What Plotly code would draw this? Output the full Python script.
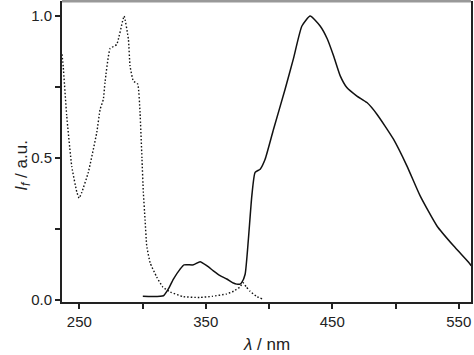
import plotly.graph_objects as go

# Absorption (dotted) spectrum
abs_wl = [236.3, 237.3, 240.0, 244.0, 248.0, 249.8, 251.9, 257.1, 263.8, 266.4, 269.0,
          270.3, 274.3, 279.6, 285.4, 288.8, 290.1, 292.7, 296.2, 298.0, 299.5, 300.6,
          302.0, 303.3, 306.0, 311.2, 316.0, 322.0, 332.0, 345.0, 355.0, 366.0, 372.0,
          377.0, 379.5, 382.0, 385.0, 390.0, 394.5]
abs_val = [0.865, 0.82, 0.65, 0.47, 0.38, 0.358, 0.378, 0.449, 0.59, 0.67, 0.707,
           0.766, 0.885, 0.90, 1.0, 0.918, 0.824, 0.771, 0.76, 0.66, 0.50, 0.38,
           0.28, 0.19, 0.13, 0.08, 0.045, 0.027, 0.011, 0.008, 0.012, 0.02, 0.03,
           0.045, 0.06, 0.045, 0.03, 0.012, 0.003]

# Emission (solid) spectrum
em_wl = [300.2, 316.5, 320.4, 324.4, 329.7, 332.8, 340.2, 345.5, 350.8, 356.0, 361.3,
         366.6, 371.8, 374.5, 377.1, 378.5, 381.1, 383.7, 386.4, 389.0, 393.0, 396.9,
         403.5, 412.7, 419.3, 426.0, 432.5, 440.4, 446.0, 451.0, 456.3, 461.5, 469.5,
         477.4, 485.3, 498.4, 509.0, 519.5, 532.8, 545.9, 557.8, 559.9]
em_val = [0.012, 0.014, 0.038, 0.073, 0.108, 0.123, 0.123, 0.134, 0.12, 0.102, 0.085,
          0.073, 0.059, 0.055, 0.055, 0.061, 0.09, 0.214, 0.366, 0.449, 0.46, 0.495,
          0.60, 0.742, 0.85, 0.965, 1.0, 0.965, 0.92, 0.86, 0.789, 0.748, 0.718,
          0.695, 0.654, 0.566, 0.472, 0.366, 0.26, 0.19, 0.132, 0.12]

x_ticks = [250, 350, 450, 550]
y_ticks = [0.0, 0.5, 1.0]
y_tick_labels = ["0.0", "0.5", "1.0"]

fig = go.Figure()
fig.add_trace(go.Scatter(x=abs_wl, y=abs_val, mode="lines",
                         line=dict(color="#111", width=1.4, dash="1.5px,2px", shape="spline", smoothing=0.4),
                         showlegend=False, hoverinfo="skip"))
fig.add_trace(go.Scatter(x=em_wl, y=em_val, mode="lines",
                         line=dict(color="#111", width=1.5, shape="spline", smoothing=0.5),
                         showlegend=False, hoverinfo="skip"))

font = dict(family="Liberation Sans, Arial, sans-serif", size=15, color="#222")
title_font = dict(family="Liberation Sans, Arial, sans-serif", size=17, color="#222")

fig.update_layout(
    width=474, height=355,
    margin=dict(l=62, r=3, t=1, b=53),
    paper_bgcolor="white", plot_bgcolor="white",
    font=font,
    xaxis=dict(range=[236.3, 559.7], tickvals=x_ticks, ticks="outside", ticklen=5, tickwidth=1.5,
               tickcolor="#222", showline=True, linecolor="#222", linewidth=2, showgrid=False,
               zeroline=False, automargin=False,
               minor=dict(tickvals=[300, 400, 500], ticks="outside", ticklen=5,
                          tickwidth=1.5, tickcolor="#222"),
               tickfont=font),
    yaxis=dict(range=[-0.008, 1.053], tickvals=y_ticks, ticktext=y_tick_labels, ticks="outside",
               ticklen=5, tickwidth=1.5, tickcolor="#222", showline=True, linecolor="#222",
               linewidth=2, mirror=True, showgrid=False, zeroline=False, automargin=False,
               minor=dict(tickvals=[0.25, 0.75], ticks="outside", ticklen=5, tickwidth=1.5,
                          tickcolor="#222"),
               tickfont=font),
    shapes=[dict(type="line", xref="paper", yref="paper", x0=0, x1=1, y0=1, y1=1,
                 line=dict(color="#999", width=3))],
    annotations=[
        dict(text="<i>I</i><sub><i>f</i></sub> / a.u.", xref="paper", yref="paper",
             x=-0.128, y=0.455, showarrow=False, textangle=-90,
             font=title_font),
        dict(text="<i>λ</i> / nm", xref="paper", yref="paper", x=0.5, y=-0.103,
             yanchor="top", showarrow=False,
             font=title_font),
    ],
)

fig.write_html("out.html", config={"displayModeBar": False},
               post_script="document.body.style.margin='0';")
